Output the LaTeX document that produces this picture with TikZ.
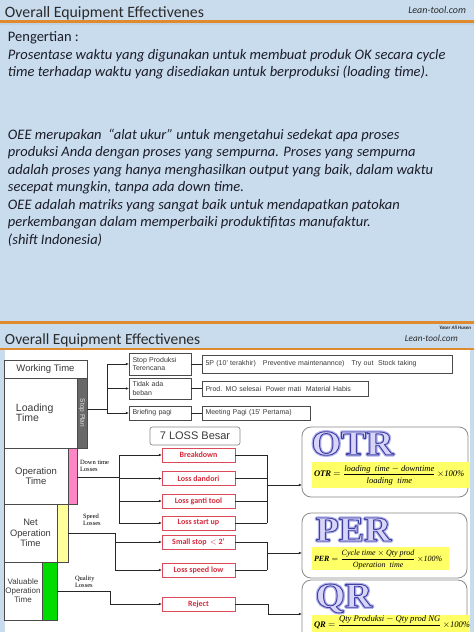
\documentclass[tikz,border=0pt]{standalone}
\usepackage{fontspec}
\setmainfont{Carlito}
\newfontfamily\arialf{Liberation Sans}
\newfontfamily\timesf{Liberation Serif}
\usetikzlibrary{arrows.meta}
\definecolor{slidebg}{HTML}{C8DCEE}
\definecolor{orangeline}{HTML}{E08A2E}
\definecolor{titlegray}{HTML}{2A2A2A}
\definecolor{bodytext}{HTML}{1C1C28}
\definecolor{boxline}{HTML}{4A4A4A}
\definecolor{txtgray}{HTML}{3A3A3A}
\definecolor{graybar}{HTML}{686868}
\definecolor{pinkbar}{HTML}{FF86C6}
\definecolor{yellowbar}{HTML}{FFFF9C}
\definecolor{greenbar}{HTML}{00DC00}
\definecolor{lossred}{HTML}{D62A3C}
\definecolor{formulay}{HTML}{FFFF66}
\definecolor{bigfill}{HTML}{D8D5F8}
\definecolor{roundline}{HTML}{8A8A8A}
\newcommand{\fsz}[2]{\fontsize{#1}{#2}\selectfont}
\newcommand{\outlinetext}[1]{%
  \rlap{\special{pdf:literal direct 1 Tr 3.2 w 1 J 1 j 0.70 0.70 0.92 RG}#1\special{pdf:literal direct 0 Tr}}%
  \special{pdf:literal direct 2 Tr 0.9 w 0.25 0.25 0.64 RG}#1\special{pdf:literal direct 0 Tr}}
\begin{document}
\begin{tikzpicture}[x=1pt,y=-1pt,
  every node/.style={inner sep=0pt, outer sep=0pt},
  bodyline/.style={anchor=base west, font=\fsz{14.5}{17.5}\itshape, text=bodytext},
  rectbox/.style={draw=boxline, line width=0.6pt, anchor=north west},
  lbl/.style={font=\arialf\fsz{9.5}{10.5}, text=txtgray, align=center},
  tbox/.style={draw=boxline, line width=0.6pt, anchor=north west, inner xsep=3.5pt, align=left, font=\arialf\fsz{7}{8.5}, text=txtgray},
  lossbox/.style={draw=lossred!85, line width=0.6pt, fill=white, anchor=west, minimum width=73pt, minimum height=14pt, font=\fsz{8}{9}\bfseries, text=lossred},
  losslbl/.style={anchor=west, align=left, font=\timesf\fsz{6.5}{7}, text=black},
  conn/.style={draw=black!85, line width=0.55pt},
  arr/.style={conn, -{Latex[length=3.2pt,width=2.6pt]}},
  roundbox/.style={draw=roundline, line width=0.8pt, fill=white, rounded corners=9pt, anchor=north west},
  formbox/.style={fill=formulay, anchor=north west},
  formtxt/.style={anchor=west, font=\timesf\itshape\fsz{8.6}{9.5}, text=black},
  bigtxt/.style={font=\timesf\bfseries\fsz{35}{35}, text=bigfill},
]
\useasboundingbox (0,0) rectangle (474,632);
\clip (0,0) rectangle (474,632);
\fill[slidebg] (0,0) rectangle (474,632);

% ---------- slide 1 ----------
\node[anchor=base west, font=\fsz{15.8}{17}, text=titlegray] (t1) at (5,17) {Overall Equipment Effectivenes};
\node[anchor=base east, font=\fsz{10}{11}\itshape, text=titlegray] (w1) at (466,13) {Lean-tool.com};
\fill[orangeline] (0,19.5) rectangle (474,22.5);
\fill[slidebg!88!black, opacity=0.35] (0,22.5) rectangle (474,24.5);

\node[bodyline, font=\fsz{14.5}{17.5}] (l1) at (8,41) {Pengertian :};
\node[bodyline] (l2) at (8,59) {Prosentase waktu yang digunakan untuk membuat produk OK secara cycle};
\node[bodyline] (l3) at (8,76.5) {time terhadap waktu yang disediakan untuk berproduksi (loading time).};
\node[bodyline] (l4) at (8,139) {OEE merupakan \ ``alat ukur'' untuk mengetahui sedekat apa proses};
\node[bodyline] (l5) at (8,156.5) {produksi Anda dengan proses yang sempurna. Proses yang sempurna};
\node[bodyline] (l6) at (8,174) {adalah proses yang hanya menghasilkan output yang baik, dalam waktu};
\node[bodyline] (l7) at (8,191.5) {secepat mungkin, tanpa ada down time.};
\node[bodyline] (l8) at (8,209) {OEE adalah matriks yang sangat baik untuk mendapatkan patokan};
\node[bodyline] (l9) at (8,226.5) {perkembangan dalam memperbaiki produktifitas manufaktur.};
\node[bodyline] (l10) at (8,244) {(shift Indonesia)};

% ---------- slide 2 ----------
\fill[orangeline] (0,320.5) rectangle (474,323.5);
\node[anchor=base west, font=\fsz{15.5}{16}, text=titlegray] (t2) at (5,344) {Overall Equipment Effectivenes};
\node[anchor=base east, font=\fsz{5}{6}\itshape\bfseries, text=titlegray] (a2) at (471,329) {Yaser Ali Husen};
\node[anchor=base east, font=\fsz{9.2}{10}\itshape, text=titlegray] (w2) at (458,341) {Lean-tool.com};
\fill[orangeline] (0,347.5) rectangle (474,350);
\fill[white] (5,350) rectangle (470,632);

% left time structure
\node[rectbox, minimum width=83pt, minimum height=18pt, lbl] (wt) at (4,360) {Working Time};
\node[rectbox, minimum width=73pt, minimum height=70pt] (lt) at (4,378) {};
\node[lbl, anchor=west, align=left, font=\arialf\fsz{10.5}{10}] (ltT) at (16,413) {Loading\\Time};
\node[rectbox, fill=graybar, minimum width=10pt, minimum height=70pt] (sp) at (77,378) {};
\node[rotate=-90, font=\arialf\fsz{6.5}{7}, text=white!80!gray] (spT) at (sp.center) {Stop Plan};
\node[rectbox, minimum width=64pt, minimum height=56pt, lbl] (ot) at (4,448) {Operation\\Time};
\node[rectbox, fill=pinkbar, minimum width=9pt, minimum height=56pt] (pk) at (68,448) {};
\node[rectbox, minimum width=53pt, minimum height=58pt, lbl, font=\arialf\fsz{9.3}{10.5}] (nt) at (4,504) {Net\\Operation\\Time};
\node[rectbox, fill=yellowbar, minimum width=11pt, minimum height=58pt] (yl) at (57,504) {};
\node[rectbox, minimum width=38pt, minimum height=58pt, lbl, font=\arialf\fsz{8}{9}] (vt) at (4,562) {Valuable\\Operation\\Time};
\node[rectbox, fill=greenbar, minimum width=15pt, minimum height=58pt] (gr) at (42,562) {};

% stop plan branch
\node[tbox, text width=55pt, minimum height=22pt] (spr) at (129,353) {Stop Produksi\\Terencana};
\node[tbox, text width=55pt, minimum height=21pt] (tab) at (129,378) {Tidak ada\\beban};
\node[tbox, text width=55pt, minimum height=14pt] (brf) at (129,406) {Briefing pagi};
\node[tbox, text width=243pt, minimum height=18pt] (r1) at (202,355) {5P (10' terakhir) \ \ Preventive maintenannce) \ \ Try out \ Stock taking};
\node[tbox, text width=159pt, minimum height=15pt] (r2) at (202,381) {Prod. MO selesai \ Power mati \ Material Habis};
\node[tbox, text width=101pt, minimum height=14pt] (r3) at (202,406) {Meeting Pagi (15' Pertama)};
\coordinate (jtt) at (107,364);
\coordinate (jtm) at (107,409);
\coordinate (jtb) at (107,413);
\draw[conn] (sp.east |- jtm) -- (jtm);
\draw[conn] (jtt) -- (jtb);
\draw[arr] (jtt) -- (spr.west);
\draw[arr] (jtt |- tab.west) -- (tab.west);
\draw[arr] (jtb) -- (brf.west);
\draw[conn] (spr.east) -- (r1.west);
\draw[conn] (tab.east) -- (r2.west);
\draw[conn] (brf.east) -- (r3.west);

% 7 loss
\node[draw=roundline, line width=0.7pt, rounded corners=2.5pt, anchor=north west, minimum width=90pt, minimum height=18pt, font=\arialf\fsz{11}{12}, text=txtgray] (sl7) at (150,427) {7 LOSS Besar};
\node[lossbox] (bd) at (162,455) {Breakdown};
\node[lossbox] (ld) at (162,478.5) {Loss dandori};
\node[lossbox] (lg) at (162,501) {Loss ganti tool};
\node[lossbox] (ls) at (162,523) {Loss start up};
\node[lossbox] (ss) at (162,542) {Small stop \ $<$ 2'};
\node[lossbox] (sl) at (162,570) {Loss speed low};
\node[lossbox] (rj) at (162,604) {Reject};

% labels
\node[losslbl] (dtl) at (80,465.5) {Down time\\Losses};
\node[losslbl] (spl) at (83,520) {Speed\\Losses};
\node[losslbl] (qll) at (75,581.5) {Quality\\Losses};

% pink branch
\coordinate (pj) at (119,477);
\draw[conn] (pk.east |- pj) -- (pj);
\draw[conn] (pj |- bd.west) -- (pj |- ls.west);
\draw[arr] (pj |- bd.west) -- (bd.west);
\draw[arr] (pj |- ld.west) -- (ld.west);
\draw[arr] (pj |- lg.west) -- (lg.west);
\draw[arr] (pj |- ls.west) -- (ls.west);
% yellow branch
\coordinate (yj) at (115,533);
\draw[conn] (yl.east |- yj) -- (yj) -- (yj |- sl.west);
\draw[arr] (yj |- ss.west) -- (ss.west);
\draw[arr] (yj |- sl.west) -- (sl.west);
% green branch
\coordinate (gj) at (110,591);
\draw[conn] (gr.east |- gj) -- (gj) -- (gj |- rj.west);
\draw[arr] (gj |- rj.west) -- (rj.west);

% ratio boxes
\node[roundbox, minimum width=166pt, minimum height=70pt] (otr) at (302,427) {};
\node[roundbox, minimum width=165pt, minimum height=65pt] (per) at (302,513) {};
\node[roundbox, minimum width=165pt, minimum height=85pt] (qr) at (302,580) {};

% right joins
\coordinate (rA) at (267,485);
\draw[conn] (bd.east) -- (bd.east -| rA);
\draw[conn] (ld.east) -- (ld.east -| rA);
\draw[conn] (lg.east) -- (lg.east -| rA);
\draw[conn] (ls.east) -- (ls.east -| rA);
\draw[conn] (rA |- bd.east) -- (rA |- ls.east);
\draw[arr] (rA) -- (rA -| otr.west);
\coordinate (rB) at (267,553);
\draw[conn] (ss.east) -- (ss.east -| rB);
\draw[conn] (sl.east) -- (sl.east -| rB);
\draw[conn] (rB |- ss.east) -- (rB |- sl.east);
\draw[arr] (rB) -- (rB -| per.west);
\coordinate (rC) at (268,614);
\draw[conn] (rj.east) -- (rj.east -| rC) -- (rC);
\draw[arr] (rC) -- (rC -| qr.west);

% big words
\node[bigtxt] (otrw) at (352.5,443.5) {\scalebox{1.08}[1]{\outlinetext{OTR}}};
\node[bigtxt] (perw) at (353.5,529.5) {\scalebox{1.08}[1]{\outlinetext{PER}}};
\node[bigtxt] (qrw) at (344,598.5) {\scalebox{1.08}[1]{\outlinetext{QR}}};

% formulas
\node[formbox, minimum width=158pt, minimum height=26pt] (otrf) at (312,462) {};
\node[formtxt] (otrft) at (314,475) {\textbf{OTR} $=\displaystyle\frac{\mbox{loading \ time} - \mbox{downtime}}{\mbox{loading \ time}}$\,$\times$100\%};
\node[formbox, minimum width=137pt, minimum height=23pt] (perf) at (312,547) {};
\node[formtxt, font=\timesf\itshape\fsz{8}{9}] (perft) at (314,559.5) {\textbf{PER} $=\displaystyle\frac{\mbox{Cycle time}\times\mbox{Qty prod}}{\mbox{Operation \ time}}$\,$\times$100\%};
\node[formbox, minimum width=158pt, minimum height=26pt] (qrf) at (312,615) {};
\node[formtxt] (qrft) at (314,624.5) {\textbf{QR} $=\displaystyle\frac{\mbox{Qty Produksi}-\mbox{Qty prod NG}}{\mbox{}}$\,$\times$100\%};
\end{tikzpicture}
\end{document}
